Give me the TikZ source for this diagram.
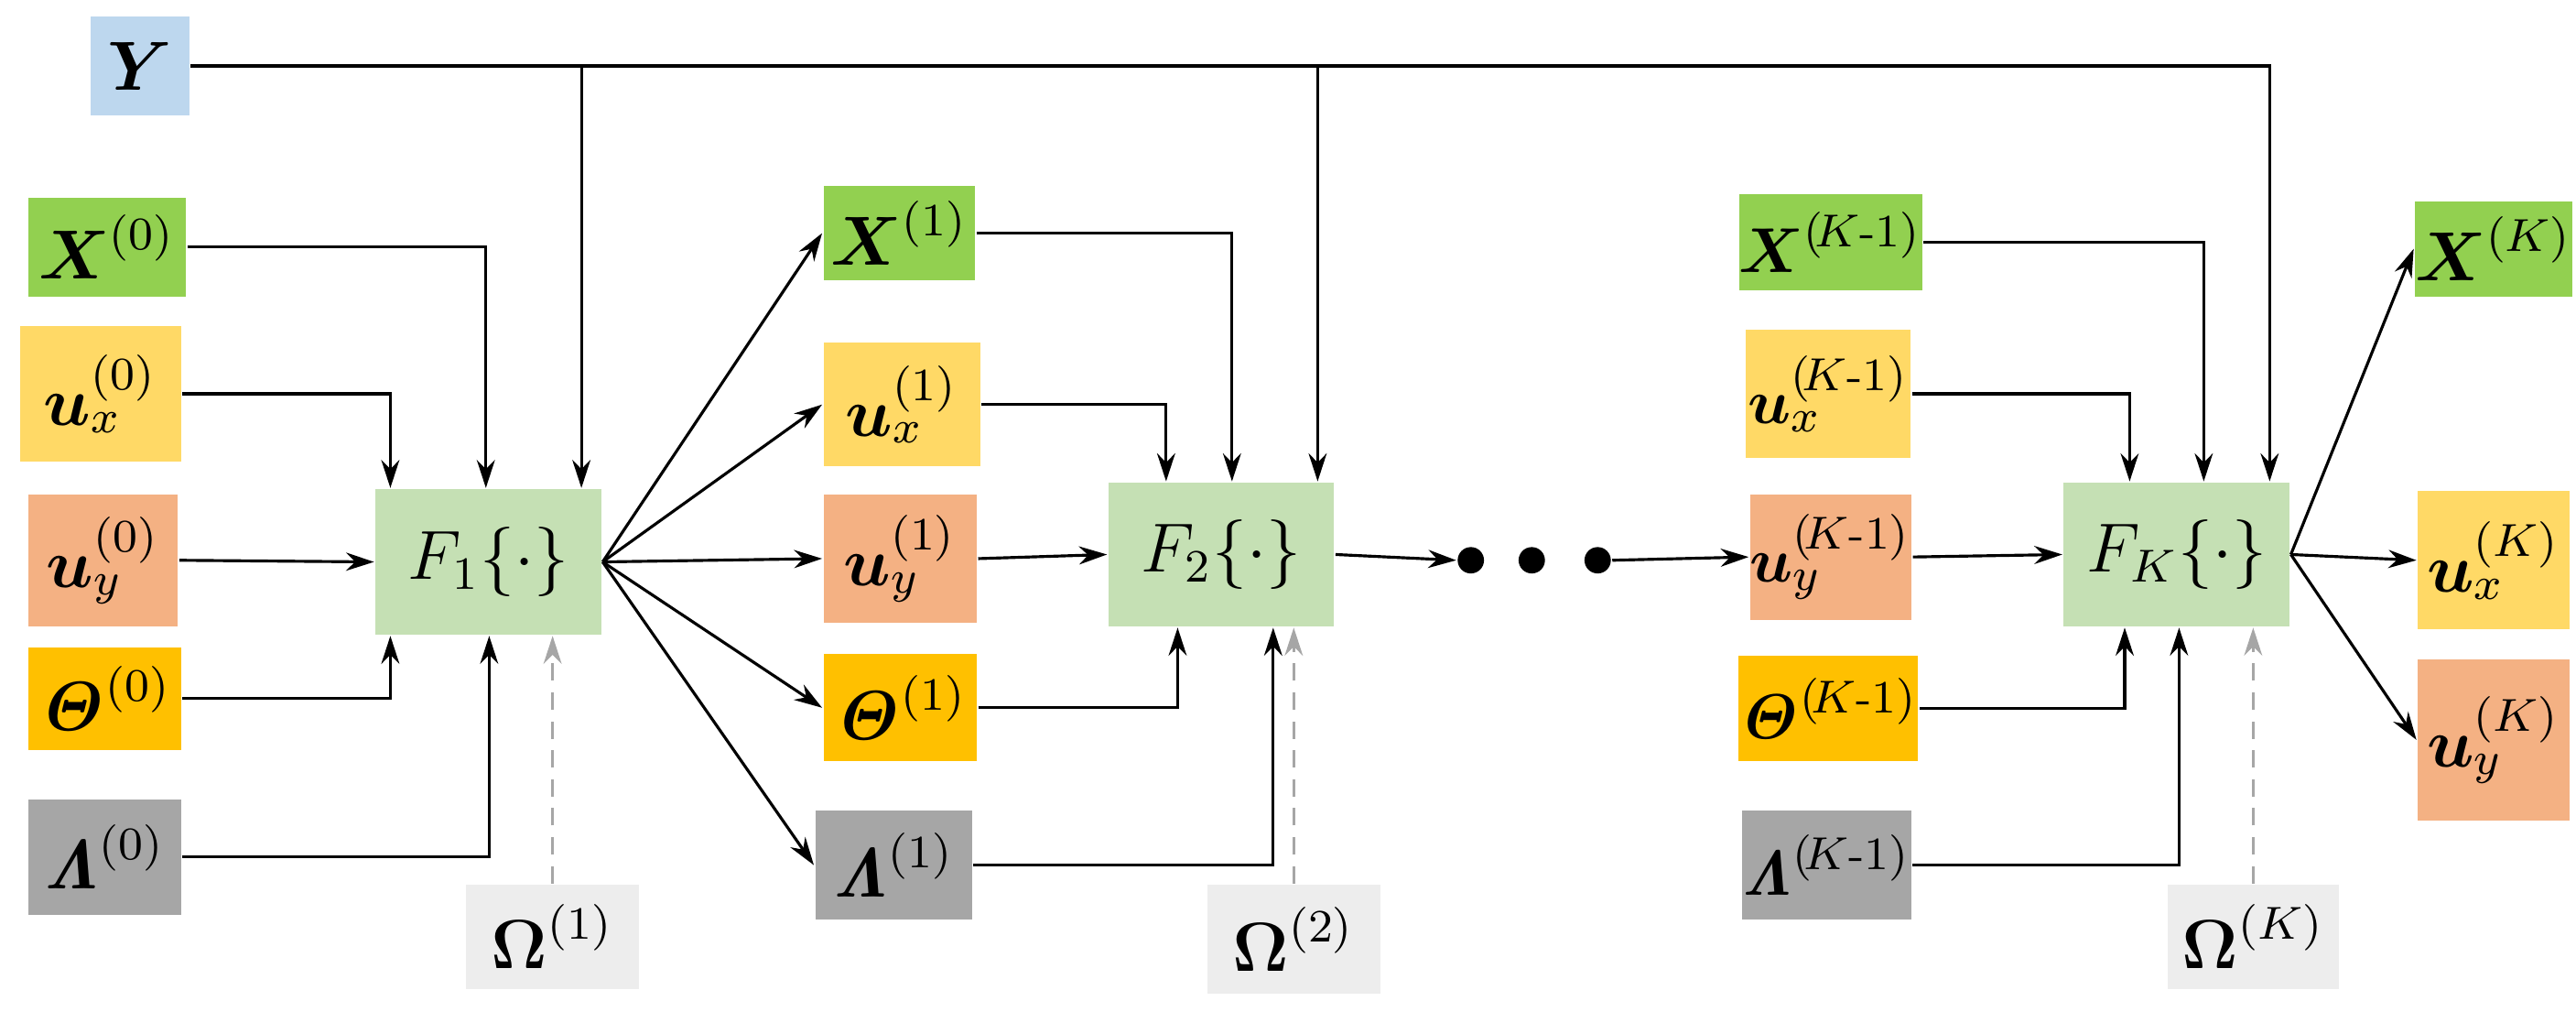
\documentclass[tikz,border=0pt]{standalone}
\usepackage{amsmath,amssymb}
\usetikzlibrary{arrows.meta}
\definecolor{cY}{HTML}{BDD7EE}
\definecolor{cX}{HTML}{92D050}
\definecolor{cU}{HTML}{FFD966}
\definecolor{cV}{HTML}{F4B183}
\definecolor{cT}{HTML}{FFC000}
\definecolor{cL}{HTML}{A6A6A6}
\definecolor{cF}{HTML}{C5E0B4}
\definecolor{cO}{HTML}{EDEDED}
\newcommand{\bT}{\boldsymbol{\mathit{\Theta}}}
\newcommand{\bL}{\boldsymbol{\mathit{\Lambda}}}
\newcommand{\km}{{\scriptstyle(}\!K\text{-}1{\scriptstyle)}}
\begin{document}
\begin{tikzpicture}[>={Stealth[length=1.7mm,width=1.1mm]}, line width=0.5pt]
    \tikzset{blk/.style={inner sep=0pt, font=\fontsize{12}{14}\selectfont},
        blkk/.style={blk, font=\fontsize{11}{13}\selectfont},
        dep/.style={->, densely dashed, gray!70},
        dot/.style={circle, fill, inner sep=0pt, minimum size=1.6mm}}
    \useasboundingbox (0,0) rectangle (15.64,-6.14);
    % inputs of the first stage
    \node[blk, fill=cY, minimum width=6mm, minimum height=6mm] (Y) at (0.85,-0.40) {$\boldsymbol{Y}$};
    \node[blk, fill=cX, minimum width=9.6mm, minimum height=6mm] (X0) at (0.65,-1.50) {$\boldsymbol{X}^{(0)}$};
    \node[blk, fill=cU, minimum width=9.8mm, minimum height=8.2mm] (ux0) at (0.61,-2.39) {$\boldsymbol{u}_x^{(0)}$};
    \node[blk, fill=cV, minimum width=9.1mm, minimum height=8mm] (uy0) at (0.625,-3.40) {$\boldsymbol{u}_y^{(0)}$};
    \node[blk, fill=cT, minimum width=9.3mm, minimum height=6.2mm] (Th0) at (0.635,-4.24) {$\bT^{(0)}$};
    \node[blk, fill=cL, minimum width=9.3mm, minimum height=7mm] (La0) at (0.635,-5.20) {$\bL^{(0)}$};
    \node[blk, fill=cF, minimum width=13.7mm, minimum height=8.8mm] (F1) at (2.965,-3.41) {$F_1\{\cdot\}$};
    \node[blk, fill=cO, minimum width=10.5mm, minimum height=6.3mm] (Om1) at (3.355,-5.685) {$\boldsymbol{\Omega}^{(1)}$};
    % second stage
    \node[blk, fill=cX, minimum width=9.2mm, minimum height=5.7mm] (X1) at (5.46,-1.415) {$\boldsymbol{X}^{(1)}$};
    \node[blk, fill=cU, minimum width=9.5mm, minimum height=7.5mm] (ux1) at (5.475,-2.455) {$\boldsymbol{u}_x^{(1)}$};
    \node[blk, fill=cV, minimum width=9.3mm, minimum height=7.8mm] (uy1) at (5.465,-3.39) {$\boldsymbol{u}_y^{(1)}$};
    \node[blk, fill=cT, minimum width=9.3mm, minimum height=6.5mm] (Th1) at (5.465,-4.295) {$\bT^{(1)}$};
    \node[blk, fill=cL, minimum width=9.5mm, minimum height=6.6mm] (La1) at (5.425,-5.25) {$\bL^{(1)}$};
    \node[blk, fill=cF, minimum width=13.7mm, minimum height=8.7mm] (F2) at (7.415,-3.365) {$F_2\{\cdot\}$};
    \node[blk, fill=cO, minimum width=10.5mm, minimum height=6.6mm] (Om2) at (7.855,-5.70) {$\boldsymbol{\Omega}^{(2)}$};
    % dots
    \foreach \i/\x in {1/8.93, 2/9.30, 3/9.70}
        \node[dot] (d\i) at (\x,-3.40) {};
    % last stage
    \node[blkk, fill=cX, minimum width=9.7mm, minimum height=5.8mm] (XK1) at (11.115,-1.47) {$\boldsymbol{X}^{\km}$};
    \node[blkk, fill=cU, minimum width=10mm, minimum height=7.8mm] (uxK1) at (11.10,-2.39) {$\boldsymbol{u}_x^{\km}$};
    \node[blkk, fill=cV, minimum width=9.7mm, minimum height=7.6mm] (uyK1) at (11.115,-3.38) {$\boldsymbol{u}_y^{\km}$};
    \node[blkk, fill=cT, minimum width=10mm, minimum height=6.4mm] (ThK1) at (11.10,-4.30) {$\bT^{\km}$};
    \node[blkk, fill=cL, minimum width=10.2mm, minimum height=6.6mm] (LaK1) at (11.09,-5.25) {$\bL^{\km}$};
    \node[blk, fill=cF, minimum width=13.7mm, minimum height=8.7mm] (FK) at (13.215,-3.365) {$F_K\{\cdot\}$};
    \node[blk, fill=cO, minimum width=10.4mm, minimum height=6.3mm] (OmK) at (13.68,-5.685) {$\boldsymbol{\Omega}^{(K)}$};
    % outputs
    \node[blk, fill=cX, minimum width=9.2mm, minimum height=5.8mm] (XK) at (15.14,-1.51) {$\boldsymbol{X}^{(K)}$};
    \node[blk, fill=cU, minimum width=9.2mm, minimum height=8.4mm] (uxK) at (15.14,-3.40) {$\boldsymbol{u}_x^{(K)}$};
    \node[blk, fill=cV, minimum width=9.2mm, minimum height=9.8mm] (uyK) at (15.14,-4.49) {$\boldsymbol{u}_y^{(K)}$};
    % Y feeds every stage
    \draw[->] (Y.east) -| ([xshift=5.65mm]FK.north);
    \draw[->] ([xshift=5.65mm]F1.north |- Y.east) -- ([xshift=5.65mm]F1.north);
    \draw[->] ([xshift=5.85mm]F2.north |- Y.east) -- ([xshift=5.85mm]F2.north);
    % stage 1 inputs
    \draw[->] (X0.east) -| ([xshift=-0.15mm]F1.north);
    \draw[->] (ux0.east) -| ([xshift=-5.95mm]F1.north);
    \draw[->] (uy0.east) -- (F1.west);
    \draw[->] (Th0.east) -| ([xshift=-5.95mm]F1.south);
    \draw[->] (La0.east) -| ([xshift=0.05mm]F1.south);
    \draw[dep] (Om1.north) -- (Om1.north |- F1.south);
    \foreach \n in {X1, ux1, uy1, Th1, La1}
        \draw[->] (F1.east) -- (\n.west);
    % stage 2 inputs
    \draw[->] (X1.east) -| ([xshift=0.65mm]F2.north);
    \draw[->] (ux1.east) -| ([xshift=-3.35mm]F2.north);
    \draw[->] (uy1.east) -- (F2.west);
    \draw[->] (Th1.east) -| ([xshift=-2.65mm]F2.south);
    \draw[->] (La1.east) -| ([xshift=3.15mm]F2.south);
    \draw[dep] (Om2.north) -- (Om2.north |- F2.south);
    \draw[->] (F2.east) -- (d1.west);
    \draw[->] (d3.east) -- (uyK1.west);
    % stage K inputs
    \draw[->] (XK1.east) -| ([xshift=1.65mm]FK.north);
    \draw[->] (uxK1.east) -| ([xshift=-2.85mm]FK.north);
    \draw[->] (uyK1.east) -- (FK.west);
    \draw[->] (ThK1.east) -| ([xshift=-3.15mm]FK.south);
    \draw[->] (LaK1.east) -| ([xshift=0.15mm]FK.south);
    \draw[dep] (OmK.north) -- (OmK.north |- FK.south);
    \foreach \n in {XK, uxK, uyK}
        \draw[->] (FK.east) -- (\n.west);
\end{tikzpicture}
\end{document}
